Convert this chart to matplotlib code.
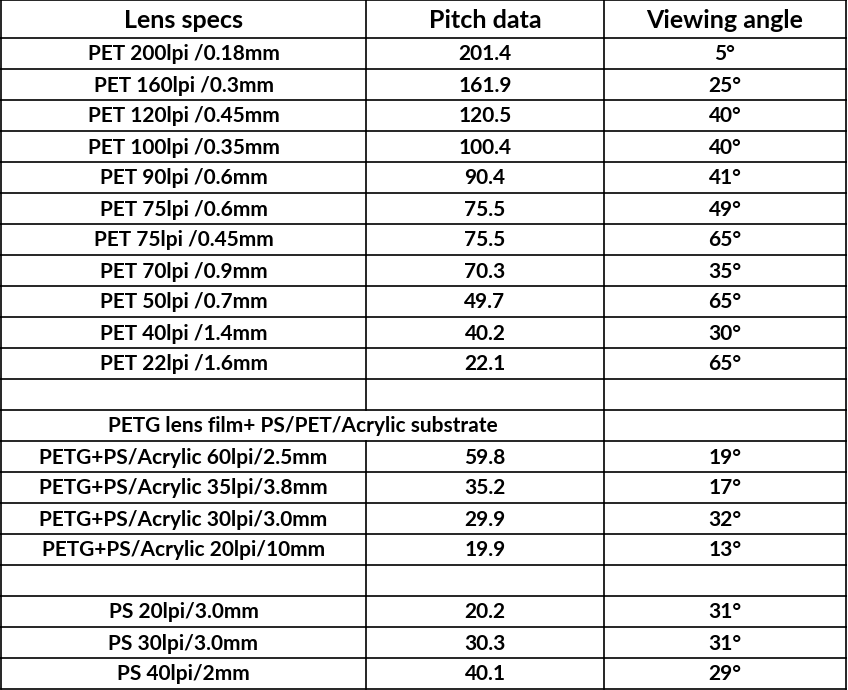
import matplotlib
matplotlib.use('Agg')
import matplotlib.pyplot as plt

headers = ['Lens specs', 'Pitch data', 'Viewing angle']
specs = ['PET 200lpi /0.18mm', 'PET 160lpi /0.3mm', 'PET 120lpi /0.45mm', 'PET 100lpi /0.35mm',
         'PET 90lpi /0.6mm', 'PET 75lpi /0.6mm', 'PET 75lpi /0.45mm', 'PET 70lpi /0.9mm',
         'PET 50lpi /0.7mm', 'PET 40lpi /1.4mm', 'PET 22lpi /1.6mm', '',
         'PETG lens film+ PS/PET/Acrylic substrate',
         'PETG+PS/Acrylic 60lpi/2.5mm', 'PETG+PS/Acrylic 35lpi/3.8mm',
         'PETG+PS/Acrylic 30lpi/3.0mm', 'PETG+PS/Acrylic 20lpi/10mm', '',
         'PS 20lpi/3.0mm', 'PS 30lpi/3.0mm', 'PS 40lpi/2mm']
pitch = ['201.4', '161.9', '120.5', '100.4', '90.4', '75.5', '75.5', '70.3', '49.7', '40.2', '22.1', '',
         '', '59.8', '35.2', '29.9', '19.9', '', '20.2', '30.3', '40.1']
angle = ['5°', '25°', '40°', '40°', '41°', '49°', '65°', '35°', '65°', '30°', '65°', '',
         '', '19°', '17°', '32°', '13°', '', '31°', '31°', '29°']
merged_rows = [12]  # spec text spans first two columns

W, H = 848, 690
col_x = [1, 366, 604, 846]
head_h = 38
row_h = (H - 1 - head_h) / len(specs)

fig = plt.figure(figsize=(W / 100, H / 100), dpi=100)
ax = fig.add_axes([0, 0, 1, 1])
ax.set_xlim(0, W)
ax.set_ylim(H, 0)
ax.axis('off')

font = dict(family=['Lato', 'DejaVu Sans'], fontweight='bold', color='black')
lw = 1.2

row_y = [0, head_h] + [head_h + (i + 1) * row_h for i in range(len(specs))]
row_y[-1] = H - 1
for y in row_y:
    ax.plot([col_x[0], col_x[-1]], [y, y], color='black', lw=lw)
for i in range(len(row_y) - 1):
    for j, x in enumerate(col_x):
        if j == 1 and (i - 1) in merged_rows:
            continue
        ax.plot([x, x], [row_y[i], row_y[i + 1]], color='black', lw=lw)

for j, h in enumerate(headers):
    ax.text((col_x[j] + col_x[j + 1]) / 2, head_h / 2 + 1, h, ha='center', va='center', fontsize=18, **font)

for i in range(len(specs)):
    yc = head_h + (i + 0.5) * row_h + 1
    if i in merged_rows:
        ax.text((col_x[0] + col_x[2]) / 2, yc, specs[i], ha='center', va='center', fontsize=15, **font)
    else:
        ax.text((col_x[0] + col_x[1]) / 2, yc, specs[i], ha='center', va='center', fontsize=15, **font)
    ax.text((col_x[1] + col_x[2]) / 2, yc, pitch[i], ha='center', va='center', fontsize=15, **font)
    ax.text((col_x[2] + col_x[3]) / 2, yc, angle[i], ha='center', va='center', fontsize=15, **font)

fig.savefig('out.png', dpi=100)
